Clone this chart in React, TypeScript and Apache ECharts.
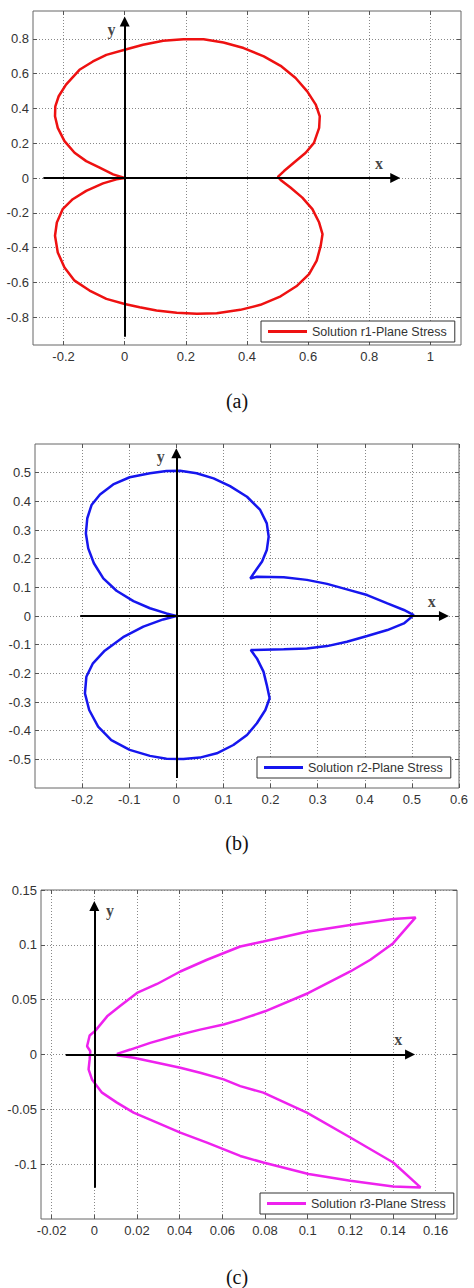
import React, { useEffect, useRef } from 'react';
import * as echarts from 'echarts';

// ---- (a) r1 curve ----
const r1X = [0, -0.038, -0.082, -0.126, -0.164, -0.197, -0.219, -0.228, -0.227, -0.216, -0.192, -0.148, -0.104, -0.06, 0, 0.06, 0.126, 0.192, 0.258, 0.323, 0.389, 0.455, 0.51, 0.559, 0.597, 0.625, 0.638, 0.636, 0.619, 0.592, 0.553, 0.521, 0.501,
  0.51, 0.542, 0.581, 0.614, 0.636, 0.647, 0.641, 0.628, 0.603, 0.564, 0.51, 0.444, 0.378, 0.301, 0.236, 0.17, 0.104, 0.049, 0, -0.06, -0.115, -0.164, -0.197, -0.219, -0.228, -0.222, -0.203, -0.17, -0.126, -0.071, -0.027, 0];
const r1Y = [0, 0.021, 0.059, 0.097, 0.145, 0.212, 0.288, 0.355, 0.412, 0.47, 0.537, 0.622, 0.67, 0.708, 0.737, 0.766, 0.789, 0.798, 0.798, 0.779, 0.747, 0.699, 0.645, 0.575, 0.498, 0.422, 0.355, 0.288, 0.202, 0.145, 0.088, 0.04, 0.006,
  -0.011, -0.055, -0.113, -0.179, -0.256, -0.323, -0.39, -0.475, -0.552, -0.619, -0.68, -0.729, -0.758, -0.777, -0.781, -0.775, -0.762, -0.743, -0.724, -0.695, -0.647, -0.59, -0.514, -0.428, -0.332, -0.256, -0.179, -0.122, -0.074, -0.031, -0.008, 0];

// ---- (b) r2 curve ----
const r2X = [0, -0.021, -0.056, -0.091, -0.127, -0.155, -0.175, -0.187, -0.192, -0.189, -0.18, -0.162, -0.134, -0.099, -0.056, -0.021, 0.008, 0.043, 0.079, 0.114, 0.15, 0.178, 0.192, 0.196, 0.192, 0.182, 0.167, 0.157,
  0.171, 0.228, 0.277, 0.32, 0.362, 0.405, 0.448, 0.483, 0.504,
  0.483, 0.448, 0.405, 0.362, 0.32, 0.277, 0.228, 0.158,
  0.171, 0.185, 0.192, 0.198, 0.189, 0.171, 0.15, 0.121, 0.086, 0.05, 0.015, -0.021, -0.056, -0.099, -0.138, -0.166, -0.185, -0.194, -0.191, -0.177, -0.152, -0.113, -0.07, -0.028, 0];
const r2Y = [0, 0.009, 0.027, 0.052, 0.088, 0.131, 0.184, 0.236, 0.288, 0.341, 0.387, 0.424, 0.459, 0.484, 0.498, 0.506, 0.507, 0.498, 0.48, 0.453, 0.416, 0.37, 0.323, 0.277, 0.23, 0.19, 0.155, 0.131,
  0.137, 0.135, 0.126, 0.112, 0.093, 0.073, 0.044, 0.021, 0.003,
  -0.026, -0.049, -0.07, -0.09, -0.105, -0.113, -0.116, -0.119,
  -0.148, -0.194, -0.241, -0.287, -0.328, -0.374, -0.415, -0.45, -0.479, -0.494, -0.499, -0.498, -0.488, -0.467, -0.433, -0.386, -0.328, -0.27, -0.212, -0.165, -0.121, -0.074, -0.037, -0.012, 0];

// ---- (c) r3 curve ----
const r3X = [0.0106, 0.0169, 0.0262, 0.0371, 0.0496, 0.0606, 0.0684, 0.08, 0.1004, 0.12, 0.1294, 0.1401, 0.1506,
  0.1401, 0.12, 0.0996, 0.0792, 0.0684, 0.0528, 0.0403, 0.0294, 0.02, 0.0122, 0.006, 0.0005, -0.0022, -0.0034, -0.0019,
  -0.0022, -0.0027, -0.0011, 0.0036, 0.0106, 0.0184, 0.0294, 0.0403, 0.0528, 0.0684, 0.0792, 0.1004, 0.12, 0.1401, 0.1529,
  0.1401, 0.12, 0.0996, 0.0792, 0.0684, 0.0606, 0.0496, 0.0403, 0.0294, 0.0184, 0.0106, 0.0106];
const r3Y = [0.0006, 0.0045, 0.0106, 0.0167, 0.0227, 0.0273, 0.0318, 0.0394, 0.0561, 0.0757, 0.0864, 0.1015, 0.125,
  0.1236, 0.118, 0.112, 0.103, 0.0985, 0.0864, 0.0757, 0.0643, 0.0561, 0.0445, 0.0348, 0.0218, 0.0173, 0.0075, 0.003,
  -0.0045, -0.0136, -0.0227, -0.0348, -0.0439, -0.053, -0.0621, -0.0712, -0.0803, -0.0925, -0.0985, -0.109, -0.1152, -0.1203, -0.1212,
  -0.0985, -0.0757, -0.053, -0.0348, -0.0288, -0.0227, -0.0166, -0.0121, -0.0075, -0.003, -0.0006, 0.0006];

// ---- axis limits & ticks ----
const xRangeA = [-0.3, 1.1];
const yRangeA = [-0.96, 0.96];
const xTicksA = [-0.2, 0, 0.2, 0.4, 0.6, 0.8, 1];
const yTicksA = [-0.8, -0.6, -0.4, -0.2, 0, 0.2, 0.4, 0.6, 0.8];

const xRangeB = [-0.3, 0.6];
const yRangeB = [-0.6, 0.6];
const xTicksB = [-0.2, -0.1, 0, 0.1, 0.2, 0.3, 0.4, 0.5, 0.6];
const yTicksB = [-0.5, -0.4, -0.3, -0.2, -0.1, 0, 0.1, 0.2, 0.3, 0.4, 0.5];

const xRangeC = [-0.025, 0.17];
const yRangeC = [-0.15, 0.15];
const xTicksC = [-0.02, 0, 0.02, 0.04, 0.06, 0.08, 0.1, 0.12, 0.14, 0.16];
const yTicksC = [-0.1, -0.05, 0, 0.05, 0.1, 0.15];

// ---- drawn coordinate axes (arrows): [start, end] ----
const arrowXA = [-0.266, 0.885];
const arrowYA = [-0.913, 0.9];
const arrowXB = [-0.204, 0.568];
const arrowYB = [-0.565, 0.568];
const arrowXC = [-0.0134, 0.148];
const arrowYC = [-0.1216, 0.1355];

// ---- axis name label positions: [y-label, x-label] ----
const axisNames = ['y', 'x'];
const namePosA = [[-0.043, 0.856], [0.832, 0.085]];
const namePosB = [[-0.033, 0.556], [0.542, 0.052]];
const namePosC = [[0.0073, 0.131], [0.1425, 0.0136]];

const legendNames = ['Solution r1-Plane Stress', 'Solution r2-Plane Stress', 'Solution r3-Plane Stress'];
const captions = ['(a)', '(b)', '(c)'];
const colors = ['#ee1111', '#1616ee', '#ee22ee'];

const SANS = 'Liberation Sans, Arial, sans-serif';
const SERIF = 'Liberation Serif, Times New Roman, serif';

const fmt = (v: number) => String(parseFloat(Number(v).toFixed(4)));

function axisPair(dim: 'x' | 'y', gridIndex: number, range: number[], ticks: number[]) {
  const main: any = {
    type: 'value', gridIndex, min: range[0], max: range[1],
    position: dim === 'x' ? 'bottom' : 'left',
    axisLine: { show: false, onZero: false },
    axisTick: { show: true, inside: true, length: 4, customValues: ticks, lineStyle: { color: '#555' } },
    axisLabel: { show: true, customValues: ticks, formatter: fmt, margin: dim === 'x' ? 5 : 4, fontSize: 13, color: '#333', fontFamily: SANS },
    splitLine: { show: true, lineStyle: { type: [1, 2], color: '#888', width: 1 } },
  };
  const mirror: any = {
    type: 'value', gridIndex, min: range[0], max: range[1],
    position: dim === 'x' ? 'top' : 'right',
    axisLine: { show: false, onZero: false },
    axisTick: { show: true, inside: true, length: 4, customValues: ticks, lineStyle: { color: '#555' } },
    axisLabel: { show: false },
    splitLine: { show: false },
  };
  return [main, mirror];
}

const zip = (xs: number[], ys: number[]) => xs.map((x, i) => [x, ys[i]]);

export default function App() {
  const ref = useRef<HTMLDivElement>(null);
  useEffect(() => {
    if (!ref.current) return;
    const chart = echarts.init(ref.current, undefined, { renderer: 'svg' });

    const grids = [
      { left: 33, top: 11, width: 428, height: 334 },
      { left: 35, top: 444, width: 424, height: 344 },
      { left: 41, top: 890, width: 416, height: 329 },
    ];
    const ranges = [
      [xRangeA, yRangeA, xTicksA, yTicksA],
      [xRangeB, yRangeB, xTicksB, yTicksB],
      [xRangeC, yRangeC, xTicksC, yTicksC],
    ] as number[][][];
    const curves = [zip(r1X, r1Y), zip(r2X, r2Y), zip(r3X, r3Y)];
    const arrows = [[arrowXA, arrowYA], [arrowXB, arrowYB], [arrowXC, arrowYC]];
    const namePos = [namePosA, namePosB, namePosC];
    const legendBoxes = [
      { left: 261, top: 321 },
      { left: 257, top: 757 },
      { left: 260, top: 1193 },
    ];
    const captionTops = [391, 833, 1267];

    const xAxis: any[] = [];
    const yAxis: any[] = [];
    ranges.forEach((r, g) => {
      xAxis.push(...axisPair('x', g, r[0], r[2]));
      yAxis.push(...axisPair('y', g, r[1], r[3]));
    });

    const series: any[] = [];
    curves.forEach((data, g) => {
      series.push({
        name: legendNames[g], type: 'line', xAxisIndex: 2 * g, yAxisIndex: 2 * g,
        data, symbol: 'none', showSymbol: false, smooth: false, z: g === 2 ? 4 : 2,
        lineStyle: { color: colors[g], width: 2.5 }, itemStyle: { color: colors[g] },
      });
      const [ax, ay] = arrows[g];
      series.push({
        name: 'axes' + g, type: 'scatter', xAxisIndex: 2 * g, yAxisIndex: 2 * g, z: 3,
        symbolSize: 0, silent: true,
        data: namePos[g].map((p, i) => ({ value: p, name: axisNames[i] })),
        label: {
          show: true, formatter: '{b}', position: 'inside',
          fontFamily: SERIF, fontWeight: 'bold', fontSize: 16, color: '#111',
        },
        markLine: {
          silent: true, symbol: ['none', 'triangle'], symbolSize: 10,
          label: { show: false },
          itemStyle: { color: '#000' },
          lineStyle: { color: '#000', width: 2, type: 'solid' },
          data: [
            [{ coord: [ax[0], 0] }, { coord: [ax[1], 0] }],
            [{ coord: [0, ay[0]] }, { coord: [0, ay[1]] }],
          ],
        },
      });
    });

    const legend = legendBoxes.map((b, g) => ({
      left: b.left, top: b.top, data: [{ name: legendNames[g], icon: 'rect' }], selectedMode: false,
      itemWidth: 39, itemHeight: 3, padding: [3, 8, 3, 7],
      borderColor: '#333', borderWidth: 1, backgroundColor: '#fff',
      textStyle: { fontSize: 12.5, color: '#333', fontFamily: SANS, lineHeight: 15 },
    }));

    const title = captions.map((c, g) => ({
      text: c, left: 'center', top: captionTops[g], padding: 0,
      textStyle: { fontFamily: SERIF, fontSize: 20, fontWeight: 'normal', color: '#111' },
    }));

    chart.setOption({
      animation: false,
      backgroundColor: '#fff',
      title,
      legend,
      grid: grids.map((g) => ({ ...g, show: true, borderColor: '#666', borderWidth: 1, backgroundColor: 'transparent' })),
      xAxis,
      yAxis,
      series,
    });
    return () => chart.dispose();
  }, []);
  return <div ref={ref} style={{ position: 'absolute', left: 0, top: 0, width: 474, height: 1288, background: '#fff' }} />;
}
